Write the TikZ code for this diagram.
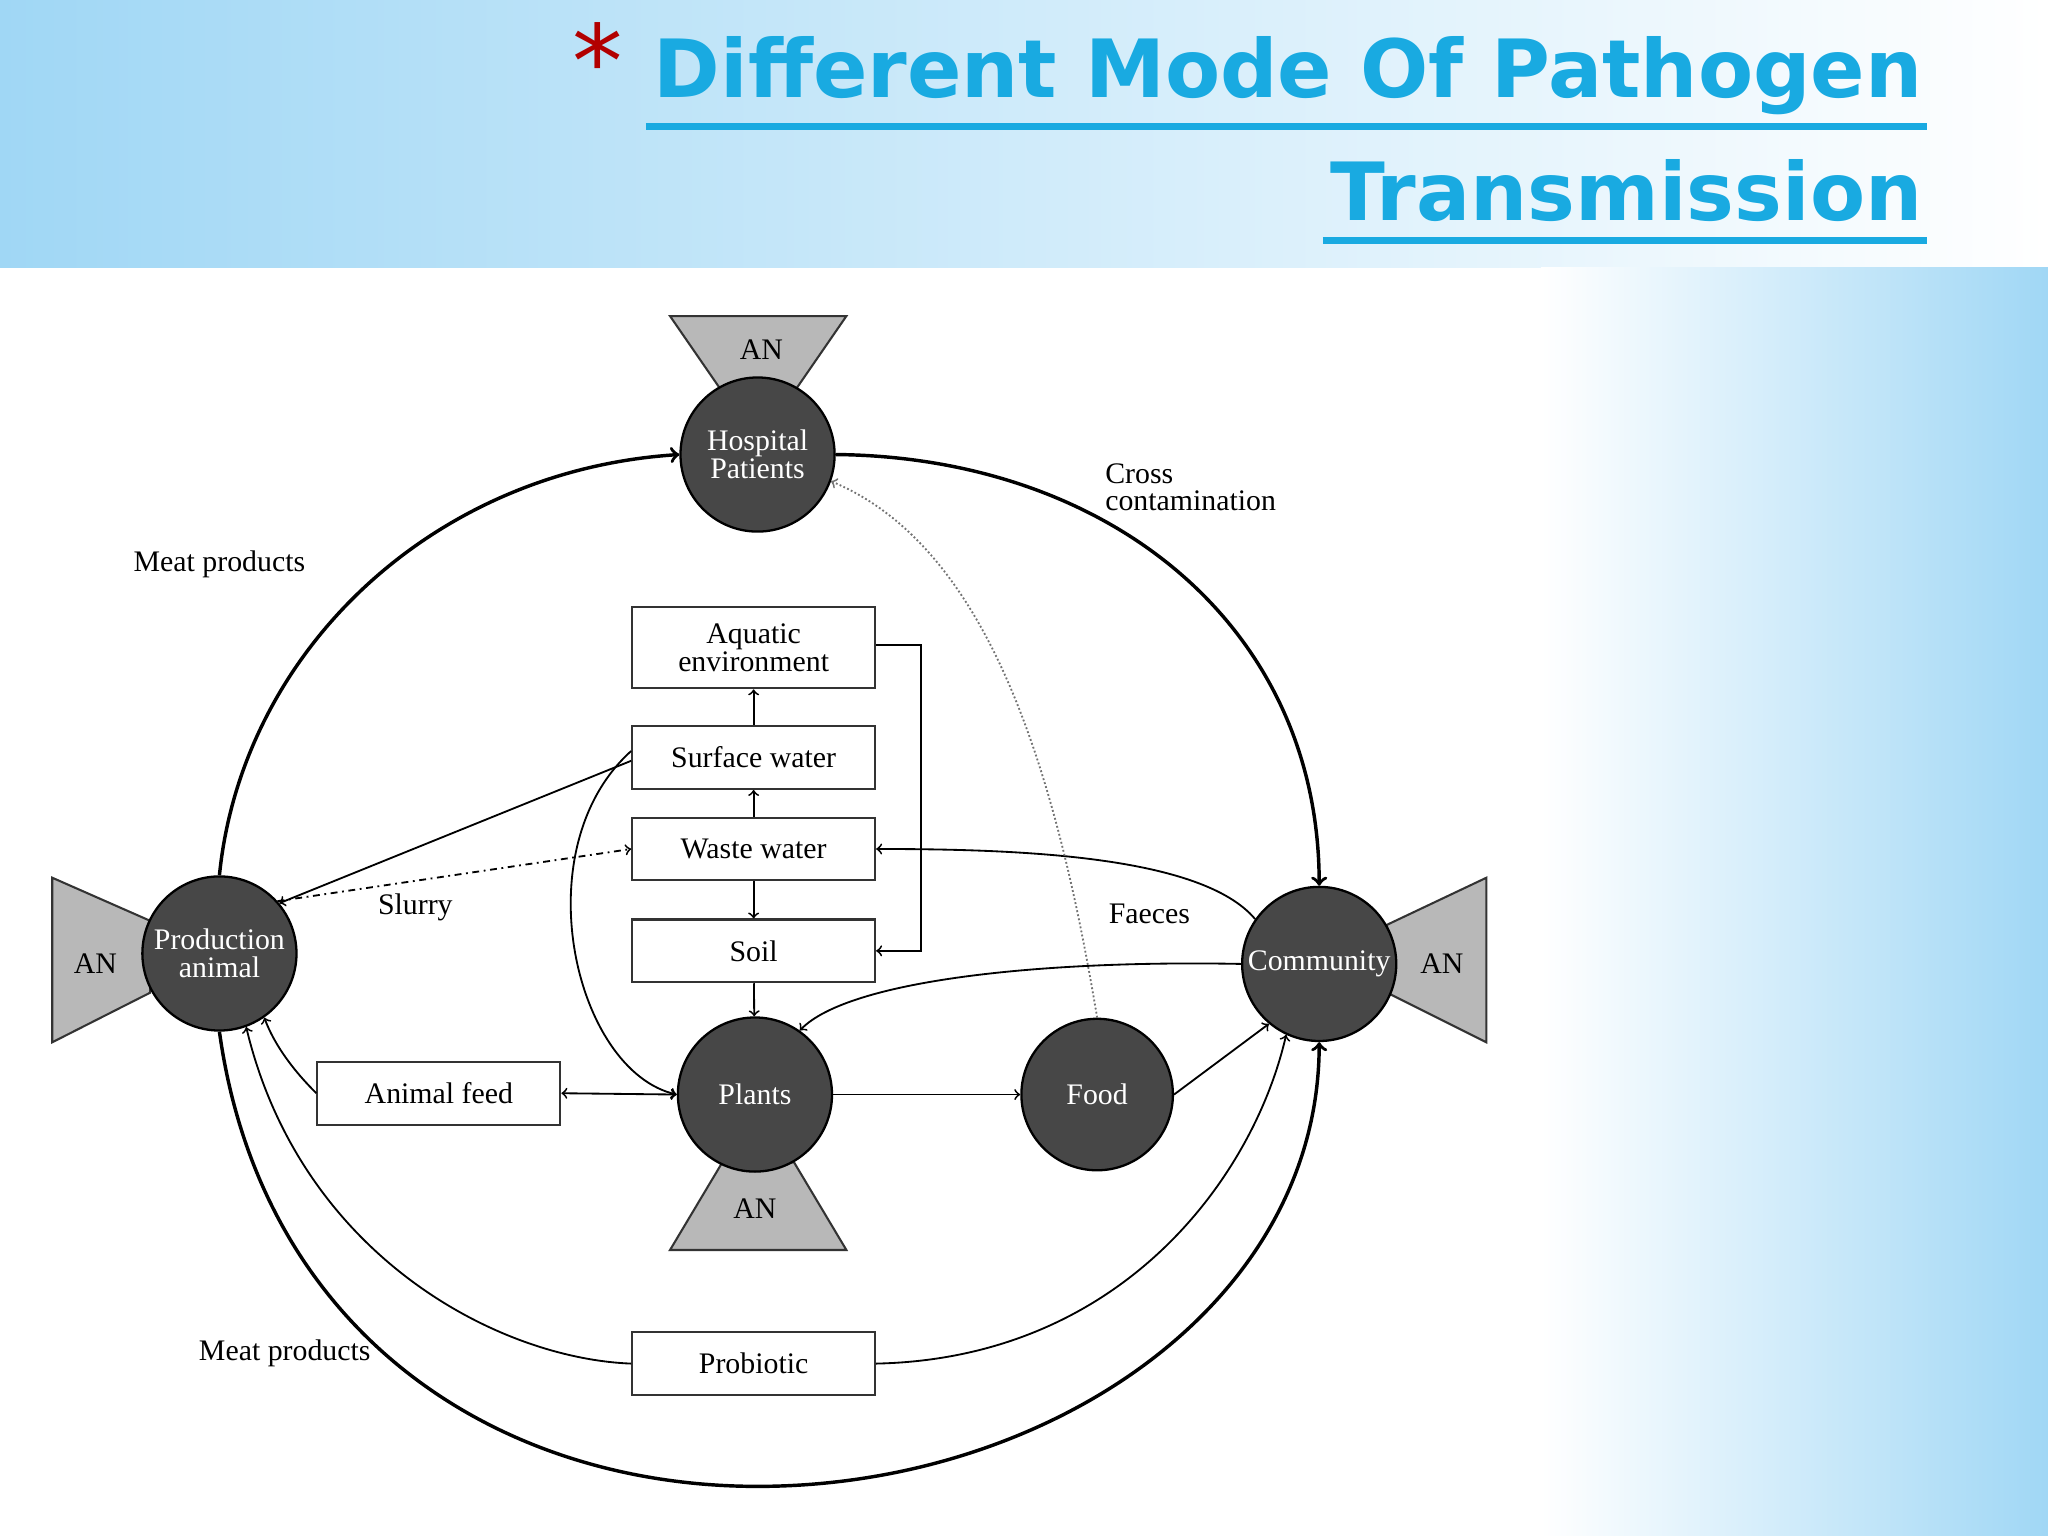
\documentclass[tikz,border=0pt]{standalone}
\usepackage{fontspec}
\setmainfont{Liberation Serif}
\newfontfamily\titlefont{DejaVu Sans}
\definecolor{sky}{RGB}{160,215,245}
\definecolor{ttl}{RGB}{25,170,225}
\begin{document}
\begin{tikzpicture}[x=0.02cm,y=-0.02cm,
  circ/.style={circle,fill=black!72,draw=black,line width=1pt,minimum size=118*0.02cm,inner sep=0,text=white,align=center,font=\fontsize{13}{14}\selectfont},
  bx/.style={draw=black!80,fill=white,line width=0.9pt,minimum width=186*0.02cm,minimum height=48*0.02cm,align=center,font=\fontsize{13}{14}\selectfont},
  an/.style={fill=black!28,draw=black!80,line width=0.9pt},
  lab/.style={font=\fontsize{13}{14}\selectfont,align=left},
  ar/.style={->,line width=0.8pt},
  big/.style={->,line width=1.5pt},
  tt/.style={anchor=east,text=ttl,font=\titlefont\bfseries\fontsize{35}{40}\selectfont}]
\useasboundingbox (0,0) rectangle (1568,1176);
\shade[left color=sky,right color=white] (0,0) rectangle (1568,205);
\shade[left color=white,right color=sky] (1180,205) rectangle (1568,1176);
\fill[white] (0,205) rectangle (1180,1176);
% title
\node[text=red!70!black,font=\titlefont\fontsize{44}{44}\selectfont] (star) at (458,46) {*};
\node[tt] (t1) at (1478,58) {Different Mode Of Pathogen};
\node[tt] (t2) at (1478,146) {Transmission};
\draw[ttl,line width=3pt] (t1.west |- 0,97) -- (1475,97);
\draw[ttl,line width=3pt] (t2.west |- 0,184) -- (1475,184);
% AN shapes
\filldraw[an] (513,242) -- (648,242) -- (608,300) -- (553,300) -- cycle;
\node[font=\fontsize{13}{14}\selectfont] (an1) at (583,268) {AN};
\filldraw[an] (40,672) -- (40,798) -- (115,760) -- (115,705) -- cycle;
\node[font=\fontsize{13}{14}\selectfont] (an2) at (73,738) {AN};
\filldraw[an] (1138,672) -- (1138,798) -- (1062,760) -- (1062,708) -- cycle;
\node[font=\fontsize{13}{14}\selectfont] (an3) at (1104,738) {AN};
\filldraw[an] (513,957) -- (648,957) -- (608,890) -- (553,890) -- cycle;
\node[font=\fontsize{13}{14}\selectfont] (an4) at (578,925) {AN};
% circles
\node[circ] (hosp) at (580,348) {Hospital\\[-2pt]Patients};
\node[circ] (prod) at (168,730) {Production\\[-2pt]animal};
\node[circ] (comm) at (1010,738) {Community};
\node[circ] (plants) at (578,838) {Plants};
\node[circ,minimum size=116*0.02cm] (food) at (840,838) {Food};
% boxes
\node[bx,minimum height=62*0.02cm] (aqua) at (577,496) {Aquatic\\[-2pt]environment};
\node[bx] (surf) at (577,580) {Surface water};
\node[bx] (waste) at (577,650) {Waste water};
\node[bx] (soil) at (577,728) {Soil};
\node[bx] (feed) at (336,837) {Animal feed};
\node[bx] (prob) at (577,1044) {Probiotic};
% labels
\node[lab] (l1) at (168,432) {Meat products};
\node[lab] (l2) at (218,1036) {Meat products};
\node[lab,anchor=west] (l3) at (840,373) {Cross\\[-2pt]contamination};
\node[lab] (l4) at (318,695) {Slurry};
\node[lab] (l5) at (880,700) {Faeces};
% big arcs
\draw[big] (prod.north) .. controls (185,500) and (330,360) .. (hosp.west);
\draw[big] (hosp.east) .. controls (850,350) and (1010,480) .. (comm.north);
\draw[big] (prod.south) .. controls (200,1020) and (380,1138) .. (580,1138) .. controls (800,1138) and (1010,1000) .. (comm.south);
% inner curves
\draw[ar] (prob.west) .. controls (380,1040) and (230,960) .. (prod.-70);
\draw[ar] (prob.east) .. controls (860,1040) and (960,900) .. (comm.-115);
\draw[ar] (feed.west) .. controls (225,820) and (210,800) .. (prod.-55);
\draw[<->,line width=0.8pt] (feed.east) -- (plants.west);
\draw[ar] (plants.east) -- (food.west);
\draw[ar] (food.east) -- (comm.-130);
% box chain
\draw[ar] (surf) -- (aqua);
\draw[ar] (waste) -- (surf);
\draw[ar] (waste) -- (soil);
\draw[ar] (soil) -- (plants);
\coordinate (c1) at (705,494);
\coordinate (c2) at (705,728);
\draw[ar] (aqua.east |- c1) -- (c1) -- (c2) -- (soil.east);
\draw[ar] ([yshift=-0.05cm]surf.west) -- (prod.40);
\draw[ar,dash dot] (prod.42) -- (waste.west);
\draw[ar] ([yshift=0.1cm]surf.west) .. controls (400,650) and (440,820) .. (plants.west);
\draw[ar] (comm.145) .. controls (920,655) and (780,650) .. (waste.east);
\draw[ar] (comm.west) .. controls (800,735) and (650,750) .. (plants.55);
\draw[ar,densely dotted,black!55] (food.north) .. controls (810,600) and (760,420) .. (hosp.-20);
\end{tikzpicture}
\end{document}
